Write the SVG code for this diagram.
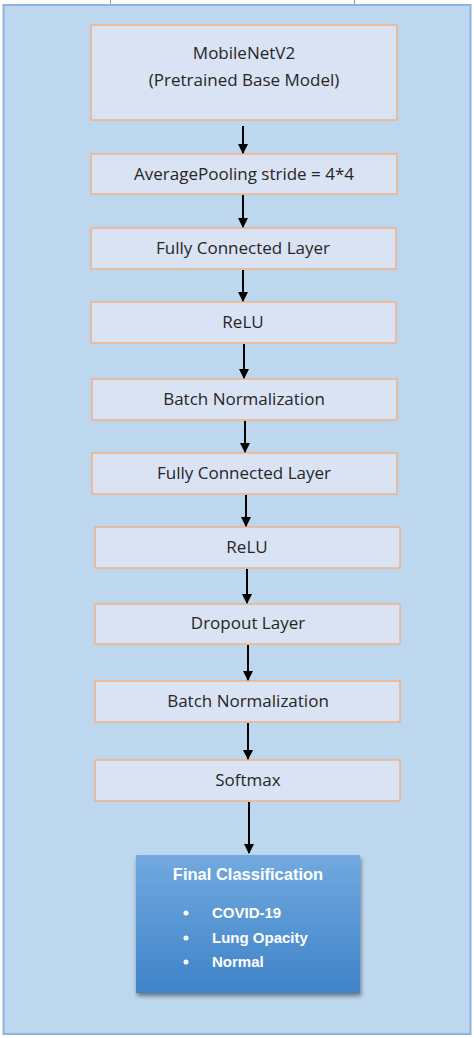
<svg xmlns="http://www.w3.org/2000/svg" width="474" height="1038" viewBox="0 0 474 1038">
<defs>
<style>
.box{fill:#dae3f3;stroke:#f4b183;stroke-width:1.5}
.t{font-family:"Open Sans","Liberation Sans",sans-serif;font-size:17px;fill:#262626;text-anchor:middle}
.c{stroke:#000;stroke-width:2;fill:none;marker-end:url(#ah)}
.w{font-family:"Liberation Sans","Open Sans",sans-serif;font-weight:bold;fill:#fff;font-size:15px}
.wt{font-size:16.5px;text-anchor:middle}
</style>
<marker id="ah" viewBox="0 0 10 10" refX="9" refY="5" markerWidth="5" markerHeight="5" orient="auto" markerUnits="strokeWidth">
<path d="M0,0 L10,5 L0,10 z" fill="#000"/>
</marker>
<linearGradient id="fg" x1="0" y1="0" x2="0" y2="1">
<stop offset="0" stop-color="#72a9e0"/>
<stop offset="1" stop-color="#3f83c8"/>
</linearGradient>
<filter id="sh" x="-10%" y="-10%" width="130%" height="130%">
<feDropShadow dx="1" dy="3" stdDeviation="2" flood-color="#000" flood-opacity="0.45"/>
</filter>
</defs>
<rect x="0" y="0" width="474" height="1038" fill="#fff"/>
<line x1="110.5" y1="0" x2="110.5" y2="5" stroke="#999" stroke-width="1"/>
<line x1="354.5" y1="0" x2="354.5" y2="5" stroke="#999" stroke-width="1"/>
<rect id="panel" x="3.5" y="5" width="467" height="1029" fill="#bdd7ee" stroke="#8eb3e0" stroke-width="2"/>

<g id="n1"><rect class="box" x="91" y="25" width="306" height="95"/><text class="t" x="244" y="59">MobileNetV2</text><text class="t" x="244" y="86">(Pretrained Base Model)</text></g>
<g id="n2"><rect class="box" x="91" y="154" width="306" height="40"/><text class="t" x="244" y="180">AveragePooling stride = 4*4</text></g>
<g id="n3"><rect class="box" x="91" y="228" width="305" height="41"/><text class="t" x="243" y="254">Fully Connected Layer</text></g>
<g id="n4"><rect class="box" x="91" y="302" width="305" height="41"/><text class="t" x="243" y="328">ReLU</text></g>
<g id="n5"><rect class="box" x="92" y="379" width="305" height="41"/><text class="t" x="244" y="405">Batch Normalization</text></g>
<g id="n6"><rect class="box" x="92" y="453" width="305" height="41"/><text class="t" x="244" y="479">Fully Connected Layer</text></g>
<g id="n7"><rect class="box" x="95" y="527" width="305" height="41"/><text class="t" x="247" y="553">ReLU</text></g>
<g id="n8"><rect class="box" x="95" y="604" width="305" height="40"/><text class="t" x="248" y="629">Dropout Layer</text></g>
<g id="n9"><rect class="box" x="95" y="681" width="305" height="41"/><text class="t" x="248" y="707">Batch Normalization</text></g>
<g id="n10"><rect class="box" x="95" y="760" width="305" height="41"/><text class="t" x="248" y="786">Softmax</text></g>
<g id="n11">
<rect x="136" y="855" width="224" height="138" fill="url(#fg)" filter="url(#sh)"/>
<text class="w wt" x="248" y="880">Final Classification</text>
<circle cx="186" cy="913" r="2.5" fill="#fff"/><text class="w" x="212" y="918">COVID-19</text>
<circle cx="186" cy="938" r="2.5" fill="#fff"/><text class="w" x="212" y="943">Lung Opacity</text>
<circle cx="186" cy="962" r="2.5" fill="#fff"/><text class="w" x="212" y="967">Normal</text>
</g>

<g id="connectors">
<line class="c" x1="243" y1="126" x2="243" y2="153"/>
<line class="c" x1="243" y1="195" x2="243" y2="227"/>
<line class="c" x1="243" y1="270" x2="243" y2="301"/>
<line class="c" x1="244" y1="344" x2="244" y2="378"/>
<line class="c" x1="245" y1="421" x2="245" y2="452"/>
<line class="c" x1="246" y1="495" x2="246" y2="526"/>
<line class="c" x1="247" y1="569" x2="247" y2="603"/>
<line class="c" x1="248" y1="645" x2="248" y2="680"/>
<line class="c" x1="248" y1="723" x2="248" y2="759"/>
<line class="c" x1="249" y1="802" x2="249" y2="853"/>
</g>
</svg>
